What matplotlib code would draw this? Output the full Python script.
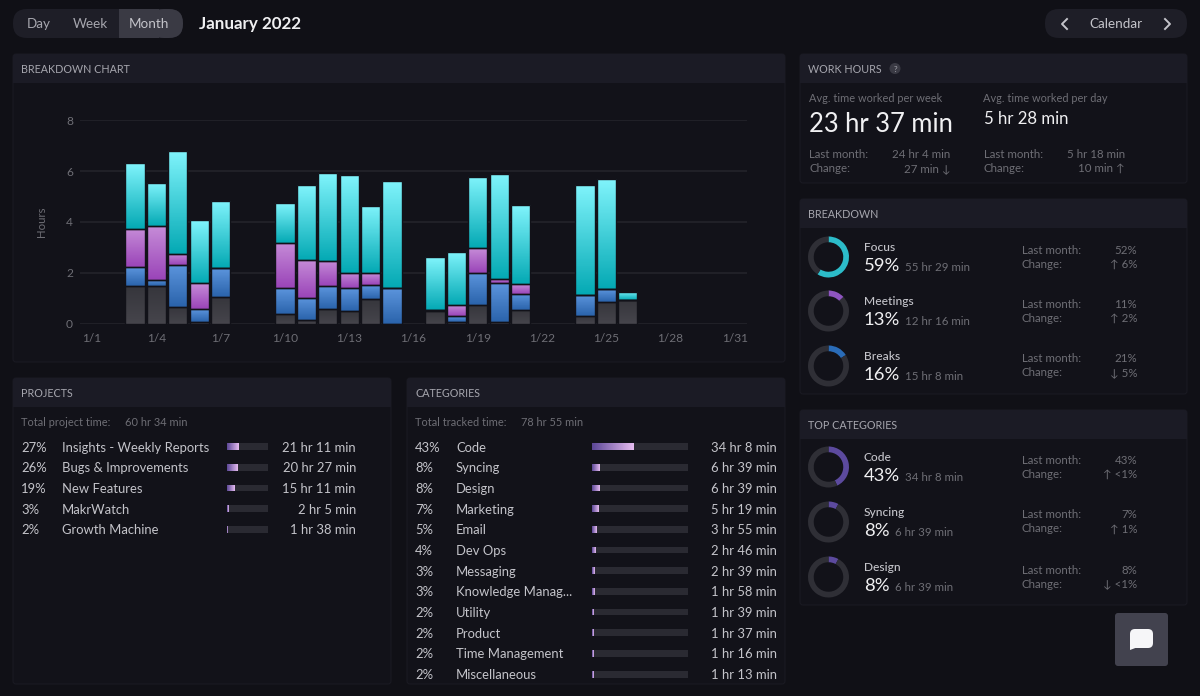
import numpy as np
import matplotlib
matplotlib.use("Agg")
import matplotlib.pyplot as plt
from matplotlib.colors import LinearSegmentedColormap
from matplotlib.patches import FancyBboxPatch, Circle, Polygon, Rectangle

plt.rcParams['font.family'] = ['Lato', 'DejaVu Sans']

# %% Data
days = [3, 4, 5, 6, 7, 10, 11, 12, 13, 14, 15, 17, 18, 19, 20, 21, 24, 25, 26]
other_hours = [1.47, 1.49, 0.63, 0.07, 1.06, 0.39, 0.13, 0.57, 0.49, 0.96, 0.0, 0.50, 0.07, 0.71, 0.07, 0.55, 0.29, 0.85, 0.91]
breaks_hours = [0.74, 0.24, 1.68, 0.51, 1.12, 1.00, 0.88, 0.90, 0.90, 0.55, 1.38, 0.05, 0.23, 1.29, 1.51, 0.63, 0.84, 0.50, 0.0]
meetings_hours = [1.51, 2.11, 0.44, 1.01, 0.0, 1.79, 1.50, 1.00, 0.61, 0.46, 0.0, 0.0, 0.42, 0.96, 0.17, 0.37, 0.0, 0.0, 0.0]
focus_hours = [2.58, 1.71, 4.06, 2.48, 2.66, 1.55, 2.93, 3.44, 3.83, 2.67, 4.23, 2.05, 2.11, 2.81, 4.14, 3.10, 4.34, 4.33, 0.34]
tick_days = [1, 4, 7, 10, 13, 16, 19, 22, 25, 28, 31]
tick_labels = [f"1/{d}" for d in tick_days]

project_pct = [27, 26, 19, 3, 2]
project_names = ["Insights - Weekly Reports", "Bugs & Improvements", "New Features", "MakrWatch", "Growth Machine"]
project_times = ["21 hr 11 min", "20 hr 27 min", "15 hr 11 min", "2 hr 5 min", "1 hr 38 min"]

category_pct = [43, 8, 8, 7, 5, 4, 3, 3, 2, 2, 2, 2]
category_names = ["Code", "Syncing", "Design", "Marketing", "Email", "Dev Ops", "Messaging",
                  "Knowledge Manag...", "Utility", "Product", "Time Management", "Miscellaneous"]
category_times = ["34 hr 8 min", "6 hr 39 min", "6 hr 39 min", "5 hr 19 min", "3 hr 55 min", "2 hr 46 min",
                  "2 hr 39 min", "1 hr 58 min", "1 hr 39 min", "1 hr 37 min", "1 hr 16 min", "1 hr 13 min"]

breakdown_names = ["Focus", "Meetings", "Breaks"]
breakdown_pct = [59, 13, 16]
breakdown_times = ["55 hr 29 min", "12 hr 16 min", "15 hr 8 min"]
breakdown_last = ["52%", "11%", "21%"]
breakdown_change = ["↑ 6%", "↑ 2%", "↓ 5%"]

top_names = ["Code", "Syncing", "Design"]
top_pct = [43, 8, 8]
top_times = ["34 hr 8 min", "6 hr 39 min", "6 hr 39 min"]
top_last = ["43%", "7%", "8%"]
top_change = ["↑ <1%", "↑ 1%", "↓ <1%"]

# %% Colours
BG = "#101016"
BODY = "#121219"
HEADER = "#1b1b25"
TRACK = "#2a2a32"
RING = "#2f2f36"
WHITE = "#f0f0f2"
LIGHT = "#c4c4ca"
MID = "#a6a6ae"
DIM = "#6e6e75"

W, H = 1200, 696
fig = plt.figure(figsize=(W / 100, H / 100), dpi=100, facecolor=BG)

# Full-size axes in pixel coordinates for the panels and text
page = fig.add_axes([0, 0, 1, 1], zorder=0)
page.set_xlim(0, W)
page.set_ylim(H, 0)
page.axis('off')


def px_axes(x0, y0, x1, y1):
    a = fig.add_axes([x0 / W, 1 - y1 / H, (x1 - x0) / W, (y1 - y0) / H], zorder=2)
    a.patch.set_alpha(0)
    return a


def label(x, y, s, px=12, color=LIGHT, ha='left', **kw):
    # va center sits a pixel high compared with the reference
    page.text(x, y + 1, s, fontsize=px * 0.72, color=color, ha=ha, va='center', **kw)


def box(x0, y0, x1, y1, color, radius=3, edge='none', z=1):
    page.add_patch(FancyBboxPatch((x0 + radius, y0 + radius), x1 - x0 - 2 * radius, y1 - y0 - 2 * radius,
                                  boxstyle=f"round,pad={radius},rounding_size={radius}",
                                  fc=color, ec=edge, lw=0.8, zorder=z))


def panel(x0, y0, x1, y1, title):
    box(x0, y0, x1, y1, BODY, edge="#1a1a22")
    box(x0, y0, x1, y0 + 29, HEADER, z=2)
    page.add_patch(Rectangle((x0, y0 + 20), x1 - x0, 9, fc=HEADER, ec='none', zorder=2))
    label(x0 + 8, y0 + 14.5, title, px=10.7, color=MID, zorder=3)


def gradient(a, patch, c0, c1, vertical=True):
    # c0 is the top / left colour
    x, y = patch.get_xy()
    w, h = patch.get_width(), patch.get_height()
    if w == 0 or h == 0:
        return
    cmap = LinearSegmentedColormap.from_list("g", [c0, c1])
    ramp = np.linspace(0, 1, 128)
    img = ramp.reshape(-1, 1) if vertical else ramp.reshape(1, -1)
    im = a.imshow(img, cmap=cmap, aspect='auto', origin='upper', interpolation='nearest',
                  extent=(x, x + w, y, y + h) if vertical else (x, x + w, y + h, y), zorder=2)
    # image rows can round past the bar top, keep them inside the patch
    im.set_clip_path(patch)


# %% Top bar
box(13, 9, 183, 38, "#1e1e27", radius=14)
box(150, 9, 183, 38, "#3a3a44", radius=14, z=2)
page.add_patch(Rectangle((119, 9), 40, 29, fc="#3a3a44", ec='none', zorder=2))
label(39, 23, "Day", px=13.5, color=MID, ha='center', zorder=3)
label(90, 23, "Week", px=13.5, color=MID, ha='center', zorder=3)
label(149, 23, "Month", px=13.5, color=LIGHT, ha='center', zorder=3)
label(199, 23, "January 2022", px=17, color=WHITE, fontweight='bold', zorder=3)

box(1045, 9, 1187, 38, "#1e1e27", radius=14)
label(1116, 23, "Calendar", px=13.5, color=LIGHT, ha='center', zorder=3)
page.plot([1067, 1062, 1067], [19, 24, 29], color=LIGHT, lw=1.4, zorder=3)
page.plot([1165, 1170, 1165], [19, 24, 29], color=LIGHT, lw=1.4, zorder=3)

# %% Panels
panel(13, 54, 785, 362, "BREAKDOWN CHART")
panel(800, 54, 1187, 183, "WORK HOURS")
panel(800, 199, 1187, 394, "BREAKDOWN")
panel(800, 410, 1187, 605, "TOP CATEGORIES")
panel(13, 378, 391, 684, "PROJECTS")
panel(407, 378, 785, 684, "CATEGORIES")

page.add_patch(Circle((895, 68.5), 5.5, fc="#3a3a44", ec='none', zorder=3))
label(895, 68, "?", px=8, color=MID, ha='center', zorder=4)

# %% Stacked bar chart
ax = px_axes(80, 120.3, 747, 323.5)
stack = [(other_hours, "#36363c", "#46454c"),
         (breaks_hours, "#5c95dd", "#2a63ab"),
         (meetings_hours, "#c68cd8", "#9a44b8"),
         (focus_hours, "#80f4fc", "#04a9b4")]
bottom = np.zeros(len(days))
for values, top_color, bottom_color in stack:
    values = np.array(values)
    bars = ax.bar(days, values, width=0.9, bottom=bottom, facecolor='none',
                  edgecolor=BODY, linewidth=1.0, zorder=3)
    for p in bars:
        gradient(ax, p, top_color, bottom_color)
    bottom = bottom + values

ax.set_xlim(1 + (80 - 92) / 21.43, 1 + (747 - 92) / 21.43)
ax.set_ylim(0, 8)
ax.set_yticks([0, 2, 4, 6, 8])
ax.set_xticks(tick_days)
ax.set_xticklabels(tick_labels)
ax.tick_params(length=0, labelsize=8.6, labelcolor=DIM)
ax.tick_params(axis='x', pad=7)
ax.tick_params(axis='y', pad=5)
ax.grid(True, axis='y', color="#23232b", lw=1.2, zorder=1)
ax.set_axisbelow(True)
for s in ax.spines.values():
    s.set_visible(False)
ax.set_ylabel("Hours", fontsize=8.2, color=DIM, labelpad=14)

# %% Work hours
label(809, 97.5, "Avg. time worked per week", px=11, color=DIM, zorder=3)
label(809, 123, "23 hr 37 min", px=25.6, color=WHITE, zorder=3)
label(983, 97.5, "Avg. time worked per day", px=11, color=DIM, zorder=3)
label(984, 118.5, "5 hr 28 min", px=16.8, color=WHITE, zorder=3)
for x_left, x_right, last, change in [(809, 950, "24 hr 4 min", "27 min ↓"), (984, 1125, "5 hr 18 min", "10 min ↑")]:
    label(x_left, 153.5, "Last month:", px=11.5, color=DIM, zorder=3)
    label(x_left, 167.5, "Change:", px=11.5, color=DIM, zorder=3)
    label(x_right, 153.5, last, px=11.5, color=DIM, ha='right', zorder=3)
    label(x_right, 167.5, change, px=11.5, color=DIM, ha='right', zorder=3)


# %% Donut rows
def donut_rows(centers, names, pcts, times, lasts, changes, colors):
    for cy, name, pct, t, last, change, color in zip(centers, names, pcts, times, lasts, changes, colors):
        a = px_axes(808, cy - 20.5, 849, cy + 20.5)
        a.pie([pct, 100 - pct], colors=[color, RING], startangle=90, counterclock=False, radius=1,
              wedgeprops=dict(width=0.28, linewidth=0))
        a.set_xlim(-1, 1)
        a.set_ylim(-1, 1)
        label(864, cy - 10.5, name, px=12, color=LIGHT, fontweight='medium', zorder=3)
        label(864, cy + 8, f"{pct}%", px=18.5, color=WHITE, zorder=3)
        label(895 if pct < 10 else 905, cy + 9.5, t, px=11.5, color=DIM, zorder=3)
        label(1022, cy - 8, "Last month:", px=11.5, color=DIM, zorder=3)
        label(1022, cy + 6, "Change:", px=11.5, color=DIM, zorder=3)
        label(1137, cy - 8, last, px=11.5, color=DIM, ha='right', zorder=3)
        label(1137, cy + 6, change, px=11.5, color=DIM, ha='right', zorder=3)


donut_rows([257, 311, 366], breakdown_names, breakdown_pct, breakdown_times, breakdown_last, breakdown_change,
           ["#2cbcc9", "#8e55c0", "#2a6cb8"])
donut_rows([467, 522, 577], top_names, top_pct, top_times, top_last, top_change,
           ["#5c4a9e", "#5c4a9e", "#5c4a9e"])


# %% Progress rows
def progress_rows(x_pct, x_name, bar_x0, bar_x1, x_time, pcts, names, times):
    step = 20.7
    y0 = 446.5
    for i, (pct, name, t) in enumerate(zip(pcts, names, times)):
        y = y0 + i * step
        label(x_pct, y, f"{pct}%", px=13, color=LIGHT, zorder=3)
        label(x_name, y, name, px=13, color=LIGHT, zorder=3)
        label(x_time, y, t, px=13, color=LIGHT, ha='right', zorder=3)
    n = len(pcts)
    a = px_axes(bar_x0, y0 - step / 2, bar_x1, y0 + (n - 0.5) * step)
    rows = np.arange(n)
    a.barh(rows, [100] * n, height=0.32, color=TRACK, zorder=1)
    for p in a.barh(rows, pcts, height=0.32, facecolor='none', edgecolor='none', zorder=3):
        gradient(a, p, "#5b4796", "#e6bcf0", vertical=False)
    a.set_xlim(0, 100)
    a.set_ylim(n - 0.5, -0.5)
    a.axis('off')


label(21, 421.5, "Total project time:", px=11, color=DIM, zorder=3)
label(125, 421.5, "60 hr 34 min", px=11, color=DIM, zorder=3)
progress_rows(21, 62, 227, 268, 356, project_pct, project_names, project_times)

label(415, 421.5, "Total tracked time:", px=11, color=DIM, zorder=3)
label(521, 421.5, "78 hr 55 min", px=11, color=DIM, zorder=3)
progress_rows(415, 456, 592, 688, 777, category_pct, category_names, category_times)

# %% Chat button
box(1115, 613, 1168, 666, "#42424e", radius=3, z=3)
box(1130, 629, 1153, 648, "#f6f6f8", radius=5, z=4)
page.add_patch(Polygon([[1130, 640], [1130, 650], [1138, 647]], fc="#f6f6f8", ec='none', zorder=4))

fig.savefig("out.png", dpi=100, facecolor=BG)
